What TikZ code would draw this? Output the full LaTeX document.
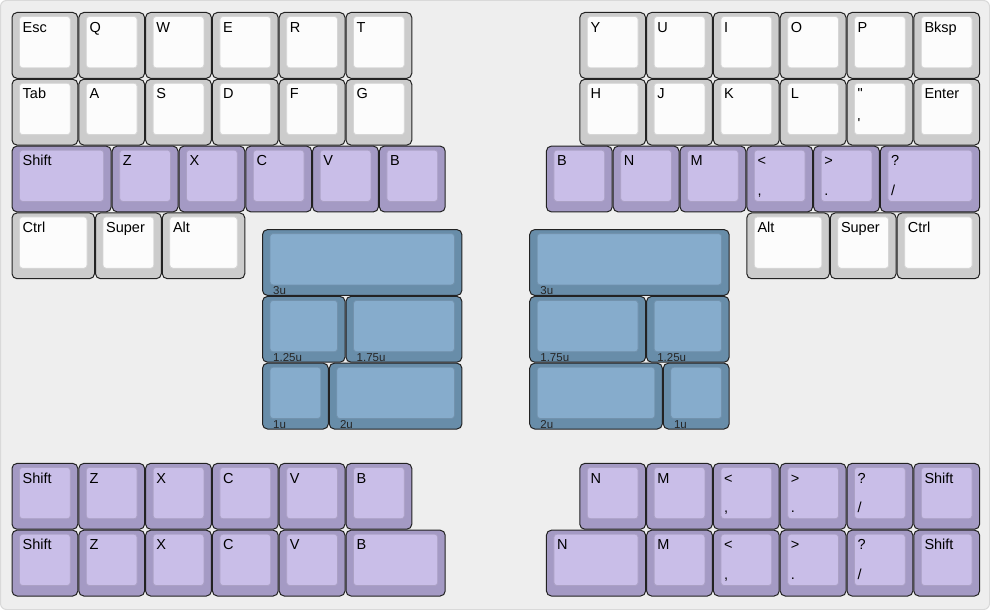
\documentclass[tikz,border=0pt]{standalone}
\usepackage{fontspec}
\setmainfont{Liberation Sans}
\definecolor{bgc}{HTML}{EEEEEE}
\definecolor{bgline}{HTML}{D9D9D9}
\definecolor{wout}{HTML}{CCCCCC}
\definecolor{win}{HTML}{FCFCFC}
\definecolor{pout}{HTML}{A49AC4}
\definecolor{pin}{HTML}{C9BEE8}
\definecolor{bout}{HTML}{688DA9}
\definecolor{bin}{HTML}{86ACCC}
\definecolor{keyline}{HTML}{222222}
\tikzset{
  keyouter/.style={draw=keyline, line width=1pt, rounded corners=5pt},
  keyinner/.style={line width=0.8pt, rounded corners=3pt},
  toplab/.style={anchor=base west, inner sep=0pt, text=black, font=\fontsize{14.5}{14.5}\selectfont},
  frontlab/.style={anchor=base west, inner sep=0pt, text=black!85, font=\fontsize{11.5}{11.5}\selectfont},
}
% name, colour prefix, column, row, width (u), top legend, bottom legend, front legend
\newcommand\kbkey[8]{%
  \pgfmathsetmacro\kx{11.5+#3*66.8}%
  \pgfmathsetmacro\ky{12+#4*66.8}%
  \pgfmathsetmacro\kw{#5*66.8}%
  \draw[keyouter, fill=#2out] (\kx+0.5,\ky+0.5) rectangle (\kx+\kw-0.5,\ky+66.3);
  \draw[keyinner, fill=#2in, draw=#2in!85!black] (\kx+8,\ky+4.5) rectangle (\kx+\kw-8,\ky+55.8);
  \def\kbtmp{#6}\ifx\kbtmp\empty\else\node[toplab] (#1t) at (\kx+11,\ky+20.1) {#6};\fi
  \def\kbtmp{#7}\ifx\kbtmp\empty\else\node[toplab] (#1b) at (\kx+11,\ky+49.8) {#7};\fi
  \def\kbtmp{#8}\ifx\kbtmp\empty\else\node[frontlab] (#1f) at (\kx+11,\ky+65.3) {#8};\fi
}
\begin{document}
\begin{tikzpicture}[x=1pt,y=-1pt]
\useasboundingbox (0,0) rectangle (990,610);
\draw[fill=bgc, draw=bgline, line width=1pt, rounded corners=6pt] (0.5,0.5) rectangle (989.5,609.5);
% ---- left half, row 0-1
\kbkey{esc}{w}{0}{0}{1}{Esc}{}{}
\kbkey{q}{w}{1}{0}{1}{Q}{}{}
\kbkey{w}{w}{2}{0}{1}{W}{}{}
\kbkey{e}{w}{3}{0}{1}{E}{}{}
\kbkey{r}{w}{4}{0}{1}{R}{}{}
\kbkey{t}{w}{5}{0}{1}{T}{}{}
\kbkey{tab}{w}{0}{1}{1}{Tab}{}{}
\kbkey{a}{w}{1}{1}{1}{A}{}{}
\kbkey{s}{w}{2}{1}{1}{S}{}{}
\kbkey{d}{w}{3}{1}{1}{D}{}{}
\kbkey{f}{w}{4}{1}{1}{F}{}{}
\kbkey{g}{w}{5}{1}{1}{G}{}{}
% ---- right half, row 0-1
\kbkey{y}{w}{8.5}{0}{1}{Y}{}{}
\kbkey{u}{w}{9.5}{0}{1}{U}{}{}
\kbkey{i}{w}{10.5}{0}{1}{I}{}{}
\kbkey{o}{w}{11.5}{0}{1}{O}{}{}
\kbkey{p}{w}{12.5}{0}{1}{P}{}{}
\kbkey{bksp}{w}{13.5}{0}{1}{Bksp}{}{}
\kbkey{h}{w}{8.5}{1}{1}{H}{}{}
\kbkey{j}{w}{9.5}{1}{1}{J}{}{}
\kbkey{k}{w}{10.5}{1}{1}{K}{}{}
\kbkey{l}{w}{11.5}{1}{1}{L}{}{}
\kbkey{quo}{w}{12.5}{1}{1}{\textquotedbl}{\textquotesingle}{}
\kbkey{enter}{w}{13.5}{1}{1}{Enter}{}{}
% ---- row 2 (purple)
\kbkey{lshift}{p}{0}{2}{1.5}{Shift}{}{}
\kbkey{z}{p}{1.5}{2}{1}{Z}{}{}
\kbkey{x}{p}{2.5}{2}{1}{X}{}{}
\kbkey{c}{p}{3.5}{2}{1}{C}{}{}
\kbkey{v}{p}{4.5}{2}{1}{V}{}{}
\kbkey{bl}{p}{5.5}{2}{1}{B}{}{}
\kbkey{br}{p}{8}{2}{1}{B}{}{}
\kbkey{n}{p}{9}{2}{1}{N}{}{}
\kbkey{m}{p}{10}{2}{1}{M}{}{}
\kbkey{comma}{p}{11}{2}{1}{<}{,}{}
\kbkey{dot}{p}{12}{2}{1}{>}{.}{}
\kbkey{slash}{p}{13}{2}{1.5}{?}{/}{}
% ---- row 3 (white)
\kbkey{lctrl}{w}{0}{3}{1.25}{Ctrl}{}{}
\kbkey{lsuper}{w}{1.25}{3}{1}{Super}{}{}
\kbkey{lalt}{w}{2.25}{3}{1.25}{Alt}{}{}
\kbkey{ralt}{w}{11}{3}{1.25}{Alt}{}{}
\kbkey{rsuper}{w}{12.25}{3}{1}{Super}{}{}
\kbkey{rctrl}{w}{13.25}{3}{1.25}{Ctrl}{}{}
% ---- thumb clusters (blue)
\kbkey{lt3}{b}{3.75}{3.25}{3}{}{}{3u}
\kbkey{lt125}{b}{3.75}{4.25}{1.25}{}{}{1.25u}
\kbkey{lt175}{b}{5}{4.25}{1.75}{}{}{1.75u}
\kbkey{lt1}{b}{3.75}{5.25}{1}{}{}{1u}
\kbkey{lt2}{b}{4.75}{5.25}{2}{}{}{2u}
\kbkey{rt3}{b}{7.75}{3.25}{3}{}{}{3u}
\kbkey{rt175}{b}{7.75}{4.25}{1.75}{}{}{1.75u}
\kbkey{rt125}{b}{9.5}{4.25}{1.25}{}{}{1.25u}
\kbkey{rt2}{b}{7.75}{5.25}{2}{}{}{2u}
\kbkey{rt1}{b}{9.75}{5.25}{1}{}{}{1u}
% ---- bottom rows, left
\kbkey{aS}{p}{0}{6.75}{1}{Shift}{}{}
\kbkey{aZ}{p}{1}{6.75}{1}{Z}{}{}
\kbkey{aX}{p}{2}{6.75}{1}{X}{}{}
\kbkey{aC}{p}{3}{6.75}{1}{C}{}{}
\kbkey{aV}{p}{4}{6.75}{1}{V}{}{}
\kbkey{aB}{p}{5}{6.75}{1}{B}{}{}
\kbkey{bS}{p}{0}{7.75}{1}{Shift}{}{}
\kbkey{bZ}{p}{1}{7.75}{1}{Z}{}{}
\kbkey{bX}{p}{2}{7.75}{1}{X}{}{}
\kbkey{bC}{p}{3}{7.75}{1}{C}{}{}
\kbkey{bV}{p}{4}{7.75}{1}{V}{}{}
\kbkey{bB}{p}{5}{7.75}{1.5}{B}{}{}
% ---- bottom rows, right
\kbkey{cN}{p}{8.5}{6.75}{1}{N}{}{}
\kbkey{cM}{p}{9.5}{6.75}{1}{M}{}{}
\kbkey{cComma}{p}{10.5}{6.75}{1}{<}{,}{}
\kbkey{cDot}{p}{11.5}{6.75}{1}{>}{.}{}
\kbkey{cSlash}{p}{12.5}{6.75}{1}{?}{/}{}
\kbkey{cShift}{p}{13.5}{6.75}{1}{Shift}{}{}
\kbkey{dN}{p}{8}{7.75}{1.5}{N}{}{}
\kbkey{dM}{p}{9.5}{7.75}{1}{M}{}{}
\kbkey{dComma}{p}{10.5}{7.75}{1}{<}{,}{}
\kbkey{dDot}{p}{11.5}{7.75}{1}{>}{.}{}
\kbkey{dSlash}{p}{12.5}{7.75}{1}{?}{/}{}
\kbkey{dShift}{p}{13.5}{7.75}{1}{Shift}{}{}
\end{tikzpicture}
\end{document}
